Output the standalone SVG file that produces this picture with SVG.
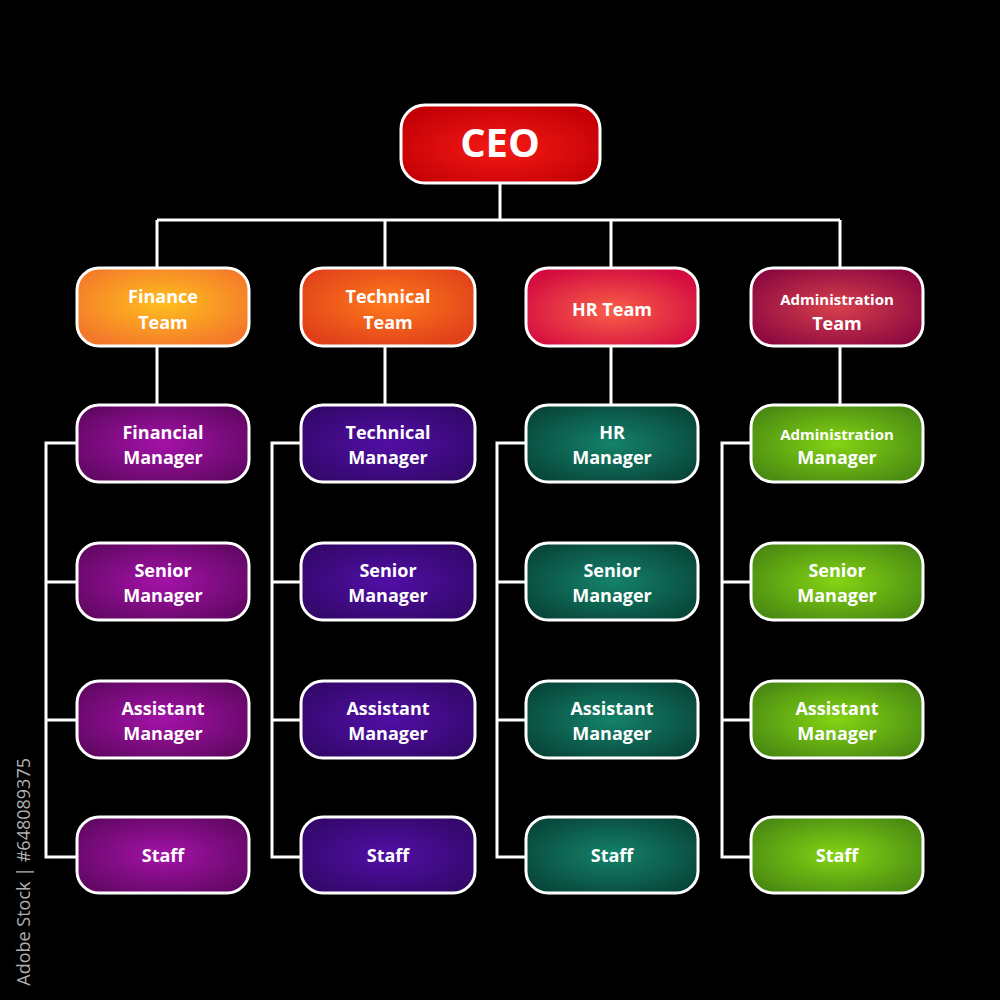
<svg xmlns="http://www.w3.org/2000/svg" width="1000" height="1000" viewBox="0 0 1000 1000">
<defs>
<radialGradient id="gCeo" cx="50%" cy="55%" r="60%"><stop offset="0" stop-color="#f41a14"/><stop offset="1" stop-color="#c40006"/></radialGradient>
<radialGradient id="gFin" cx="50%" cy="45%" r="60%"><stop offset="0" stop-color="#ffbf1e"/><stop offset="1" stop-color="#f4782a"/></radialGradient>
<radialGradient id="gTec" cx="50%" cy="45%" r="60%"><stop offset="0" stop-color="#ff7a1c"/><stop offset="1" stop-color="#e0401a"/></radialGradient>
<radialGradient id="gHr" cx="50%" cy="55%" r="60%"><stop offset="0" stop-color="#f86048"/><stop offset="1" stop-color="#d40c40"/></radialGradient>
<radialGradient id="gAdm" cx="50%" cy="50%" r="60%"><stop offset="0" stop-color="#d8404c"/><stop offset="1" stop-color="#8c0840"/></radialGradient>
<radialGradient id="gP1" cx="50%" cy="50%" r="60%"><stop offset="0" stop-color="#a412a8"/><stop offset="1" stop-color="#620864"/></radialGradient>
<radialGradient id="gP2" cx="50%" cy="50%" r="60%"><stop offset="0" stop-color="#520ea6"/><stop offset="1" stop-color="#33086a"/></radialGradient>
<radialGradient id="gP3" cx="50%" cy="50%" r="60%"><stop offset="0" stop-color="#14826a"/><stop offset="1" stop-color="#08463a"/></radialGradient>
<radialGradient id="gP4" cx="50%" cy="50%" r="60%"><stop offset="0" stop-color="#84d414"/><stop offset="1" stop-color="#4a8a12"/></radialGradient>
</defs>
<style>
.box{stroke:#fff;stroke-width:3}
.t{fill:#fff;font-family:"Open Sans","Liberation Sans",sans-serif;font-weight:700;font-size:18px;text-anchor:middle}
.s{font-size:15px}
.ln{stroke:#fff;stroke-width:3;fill:none}
</style>
<rect width="1000" height="1000" fill="#000"/>
<g id="connectors">
<path class="ln" d="M500 183V220M157 220H840M157 220V268M385 220V268M611 220V268M840 220V268"/>
<path class="ln" d="M157 346V405M385 346V405M611 346V405M840 346V405"/>
<path class="ln" d="M77 443H46V857H77M46 582H77M46 720H77"/>
<path class="ln" d="M301 443H272V857H301M272 582H301M272 720H301"/>
<path class="ln" d="M526 443H497V857H526M497 582H526M497 720H526"/>
<path class="ln" d="M751 443H722V857H751M722 582H751M722 720H751"/>
</g>
<g id="ceo"><rect class="box" x="401" y="105" width="199" height="78" rx="24" fill="url(#gCeo)"/><text class="t" x="500" y="157" style="font-size:40px">CEO</text></g>
<g id="finance-team"><rect class="box" x="77" y="268" width="172" height="78" rx="22" fill="url(#gFin)"/><text class="t" x="163" y="303">Finance</text><text class="t" x="163" y="329">Team</text></g>
<g id="technical-team"><rect class="box" x="301" y="268" width="174" height="78" rx="22" fill="url(#gTec)"/><text class="t" x="388" y="303">Technical</text><text class="t" x="388" y="329">Team</text></g>
<g id="hr-team"><rect class="box" x="526" y="268" width="172" height="78" rx="22" fill="url(#gHr)"/><text class="t" x="612" y="316">HR Team</text></g>
<g id="administration-team"><rect class="box" x="751" y="268" width="172" height="78" rx="22" fill="url(#gAdm)"/><text class="t s" x="837" y="305">Administration</text><text class="t" x="837" y="330">Team</text></g>
<g id="financial-manager"><rect class="box" x="77" y="405" width="172" height="77" rx="22" fill="url(#gP1)"/><text class="t" x="163" y="439">Financial</text><text class="t" x="163" y="464">Manager</text></g>
<g id="technical-manager"><rect class="box" x="301" y="405" width="174" height="77" rx="22" fill="url(#gP2)"/><text class="t" x="388" y="439">Technical</text><text class="t" x="388" y="464">Manager</text></g>
<g id="hr-manager"><rect class="box" x="526" y="405" width="172" height="77" rx="22" fill="url(#gP3)"/><text class="t" x="612" y="439">HR</text><text class="t" x="612" y="464">Manager</text></g>
<g id="administration-manager"><rect class="box" x="751" y="405" width="172" height="77" rx="22" fill="url(#gP4)"/><text class="t s" x="837" y="440">Administration</text><text class="t" x="837" y="464">Manager</text></g>
<g id="senior-manager-1"><rect class="box" x="77" y="543" width="172" height="77" rx="22" fill="url(#gP1)"/><text class="t" x="163" y="577">Senior</text><text class="t" x="163" y="602">Manager</text></g>
<g id="senior-manager-2"><rect class="box" x="301" y="543" width="174" height="77" rx="22" fill="url(#gP2)"/><text class="t" x="388" y="577">Senior</text><text class="t" x="388" y="602">Manager</text></g>
<g id="senior-manager-3"><rect class="box" x="526" y="543" width="172" height="77" rx="22" fill="url(#gP3)"/><text class="t" x="612" y="577">Senior</text><text class="t" x="612" y="602">Manager</text></g>
<g id="senior-manager-4"><rect class="box" x="751" y="543" width="172" height="77" rx="22" fill="url(#gP4)"/><text class="t" x="837" y="577">Senior</text><text class="t" x="837" y="602">Manager</text></g>
<g id="assistant-manager-1"><rect class="box" x="77" y="681" width="172" height="77" rx="22" fill="url(#gP1)"/><text class="t" x="163" y="715">Assistant</text><text class="t" x="163" y="740">Manager</text></g>
<g id="assistant-manager-2"><rect class="box" x="301" y="681" width="174" height="77" rx="22" fill="url(#gP2)"/><text class="t" x="388" y="715">Assistant</text><text class="t" x="388" y="740">Manager</text></g>
<g id="assistant-manager-3"><rect class="box" x="526" y="681" width="172" height="77" rx="22" fill="url(#gP3)"/><text class="t" x="612" y="715">Assistant</text><text class="t" x="612" y="740">Manager</text></g>
<g id="assistant-manager-4"><rect class="box" x="751" y="681" width="172" height="77" rx="22" fill="url(#gP4)"/><text class="t" x="837" y="715">Assistant</text><text class="t" x="837" y="740">Manager</text></g>
<g id="staff-1"><rect class="box" x="77" y="817" width="172" height="76" rx="22" fill="url(#gP1)"/><text class="t" x="163" y="862">Staff</text></g>
<g id="staff-2"><rect class="box" x="301" y="817" width="174" height="76" rx="22" fill="url(#gP2)"/><text class="t" x="388" y="862">Staff</text></g>
<g id="staff-3"><rect class="box" x="526" y="817" width="172" height="76" rx="22" fill="url(#gP3)"/><text class="t" x="612" y="862">Staff</text></g>
<g id="staff-4"><rect class="box" x="751" y="817" width="172" height="76" rx="22" fill="url(#gP4)"/><text class="t" x="837" y="862">Staff</text></g>
<text transform="translate(30,758) rotate(-90)" text-anchor="end" fill="#b0b0b0" font-family="'Open Sans','Liberation Sans',sans-serif" font-size="18">Adobe Stock | #648089375</text>
</svg>
